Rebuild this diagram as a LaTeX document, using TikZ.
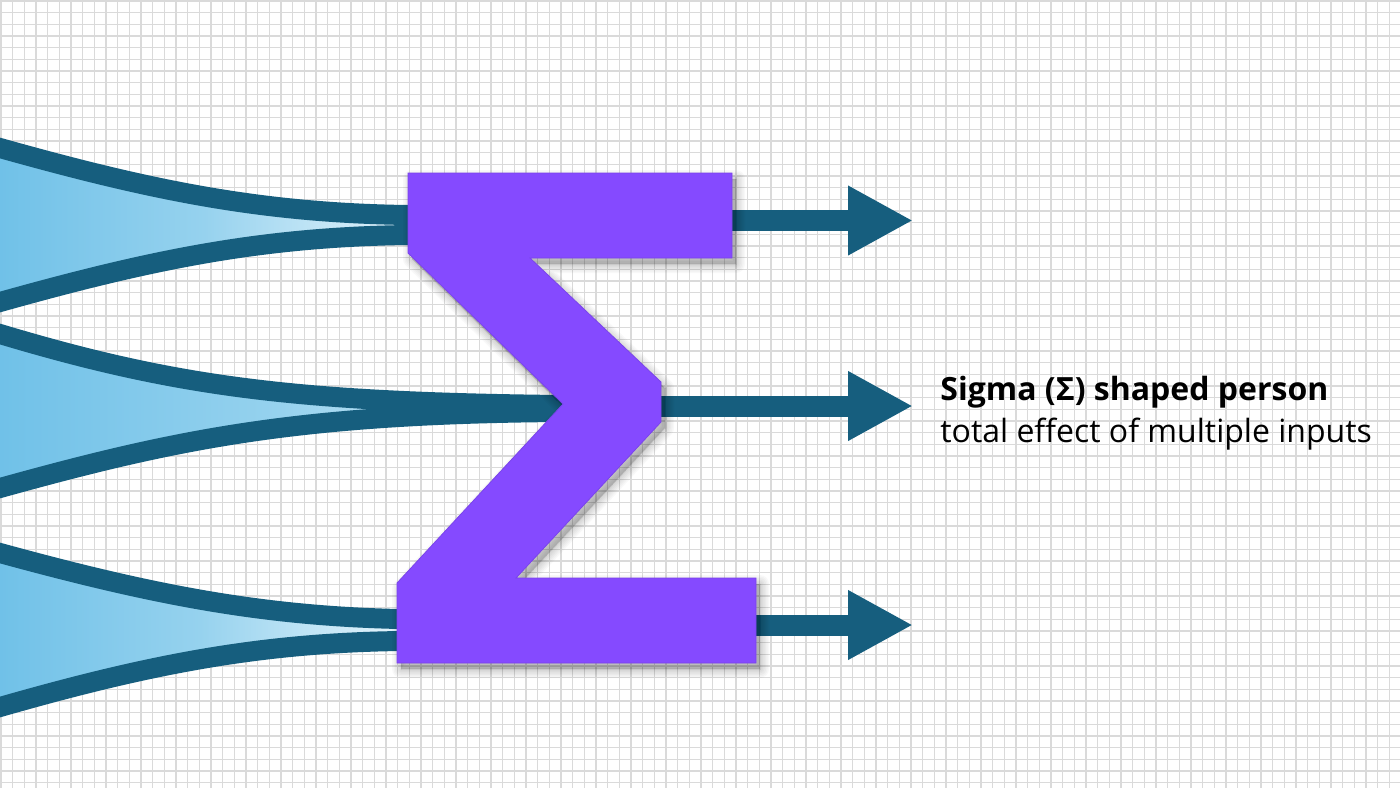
\documentclass[tikz,border=0pt]{standalone}
\usepackage{fontspec}
\setmainfont{Open Sans}
\usetikzlibrary{arrows.meta}
\definecolor{gridc}{RGB}{218,218,218}
\definecolor{flowc}{HTML}{165E7E}
\definecolor{sigc}{HTML}{854AFF}
\definecolor{fla}{RGB}{112,193,232}
\definecolor{flb}{RGB}{150,210,238}
\definecolor{flc}{RGB}{228,244,252}
\pgfdeclarehorizontalshading{funnelshade}{100bp}{color(0bp)=(fla); color(25bp)=(fla); color(50bp)=(flb); color(75bp)=(flc); color(100bp)=(flc)}
\def\sigmapoly{(408,173) -- (732,173) -- (732,258) -- (530,258) -- (661,382) -- (661,422) -- (516,578) -- (756,578) -- (756,663) -- (397,663) -- (397,583) -- (563,404) -- (408,253) -- cycle}
\begin{document}
\begin{tikzpicture}[x=0.5pt,y=-0.5pt,
  gridline/.style={draw=gridc, line width=0.7pt},
  flowline/.style={draw=flowc, line width=10pt},
  funnelfill/.style={shading=funnelshade},
  outarrow/.style={draw=flowc, line width=10.5pt, -{Triangle[length=32.5pt,width=32.5pt]}},
  sigmashape/.style={fill=sigc, draw=sigc!92!black, line width=0.4pt, line join=miter},
  shadowlayer/.style={fill=black, draw=black, opacity=0.028, line join=round},
  titletext/.style={anchor=base west, inner sep=0pt, font=\bfseries\fontsize{16}{19}\selectfont},
  subtext/.style={anchor=base west, inner sep=0pt, font=\fontsize{16}{19}\selectfont}
]
\useasboundingbox (0,0) rectangle (1400,788);
\clip (0,0) rectangle (1400,788);
\fill[white] (0,0) rectangle (1400,788);
% grid
\foreach \i in {0,...,120} {\draw[gridline] ({1+\i*11.6667},0) -- ({1+\i*11.6667},788);}
\foreach \j in {0,...,68} {\draw[gridline] (0,{1+\j*11.6667}) -- (1400,{1+\j*11.6667});}
% funnels: fills
\fill[funnelfill] (0,148) .. controls (150,190) and (260,213) .. (408,215) -- (408,235) .. controls (260,237) and (150,260) .. (0,302) -- cycle;
\fill[funnelfill] (0,334) .. controls (180,388) and (300,402) .. (560,405) -- (560,412) .. controls (300,414) and (180,438) .. (0,488) -- cycle;
\fill[funnelfill] (0,553) .. controls (150,594) and (260,616) .. (400,619) -- (400,641) .. controls (260,643) and (150,664) .. (0,707) -- cycle;
% funnels: strokes
\draw[flowline] (-30,139.6) -- (0,148) .. controls (150,190) and (260,213) .. (408,215) -- (440,215);
\draw[flowline] (-30,310.4) -- (0,302) .. controls (150,260) and (260,237) .. (408,235) -- (440,235);
\draw[flowline] (-30,325.9) -- (0,334) .. controls (180,388) and (300,402) .. (560,405) -- (600,405);
\draw[flowline] (-30,496) -- (0,488) .. controls (180,438) and (300,414) .. (560,412) -- (600,412);
\draw[flowline] (-30,544.8) -- (0,553) .. controls (150,594) and (260,616) .. (400,619) -- (430,619);
\draw[flowline] (-30,715.4) -- (0,707) .. controls (150,664) and (260,643) .. (400,641) -- (430,641);
% output arrows
\coordinate (a1s) at (700,220.5); \coordinate (a1e) at (913,220.5);
\coordinate (a2s) at (640,406);   \coordinate (a2e) at (913,406);
\coordinate (a3s) at (720,625);   \coordinate (a3e) at (913,625);
\draw[outarrow] (a1s) -- (a1e);
\draw[outarrow] (a2s) -- (a2e);
\draw[outarrow] (a3s) -- (a3e);
% sigma shadow
\begin{scope}[shift={(4,6)}]
\foreach \lw in {0,1.5,3,4.5,6,7.5,9} {\path[shadowlayer, line width=\lw pt] \sigmapoly;}
\end{scope}
% sigma
\path[sigmashape] \sigmapoly;
% text
\node[titletext] (title) at (940,400) {Sigma (Σ) shaped person};
\node[subtext] (sub) at (940,442) {total effect of multiple inputs};
\end{tikzpicture}
\end{document}
